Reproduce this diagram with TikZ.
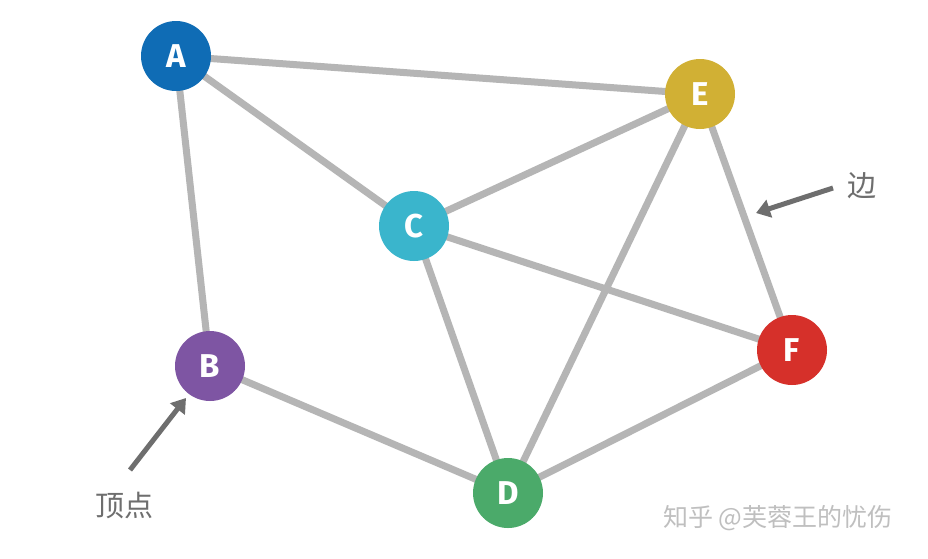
\documentclass[tikz,border=0pt]{standalone}
\usepackage{fontspec}
\setmainfont{Fira Sans}
\newfontfamily\cjk{Noto Sans CJK SC}
\usetikzlibrary{arrows.meta}
\definecolor{cA}{HTML}{0F6CB5}
\definecolor{cB}{HTML}{7E55A3}
\definecolor{cC}{HTML}{3AB5CC}
\definecolor{cD}{HTML}{4BAA6A}
\definecolor{cE}{HTML}{D1B034}
\definecolor{cF}{HTML}{D6302A}
\definecolor{edgec}{HTML}{B5B5B5}
\definecolor{arrc}{HTML}{6E6E6E}
\begin{document}
\begin{tikzpicture}[x=1pt,y=-1pt,
  vert/.style={circle,minimum size=70pt,inner sep=0pt,text=white,font=\fontsize{33}{33}\selectfont\bfseries},
  edge/.style={draw=edgec,line width=7pt},
  pointer/.style={draw=arrc,line width=5pt,-{Triangle[length=14pt,width=18pt]}},
  lbl/.style={text=arrc,font=\cjk\fontsize{29}{29}\selectfont}]
\useasboundingbox (0,0) rectangle (928,558);
\fill[white] (0,0) rectangle (928,558);
\coordinate (pA) at (176,56);
\coordinate (pE) at (700,94);
\coordinate (pC) at (414,226);
\coordinate (pB) at (210,366);
\coordinate (pF) at (792,350);
\coordinate (pD) at (508,493);
\foreach \a/\b in {A/E,A/C,A/B,C/E,C/F,C/D,E/D,E/F,B/D,F/D}
  \draw[edge] (p\a) -- (p\b);
\node[vert,fill=cA] (A) at (pA) {A};
\node[vert,fill=cE] (E) at (pE) {E};
\node[vert,fill=cC] (C) at (pC) {C};
\node[vert,fill=cB] (B) at (pB) {B};
\node[vert,fill=cF] (F) at (pF) {F};
\node[vert,fill=cD] (D) at (pD) {D};
\node[lbl] (ledge) at (862,186) {边};
\coordinate (te) at (756,213);
\draw[pointer] (833,188) -- (te);
\node[lbl] (lvert) at (124,505) {顶点};
\coordinate (tv) at (186,398);
\draw[pointer] (130,470) -- (tv);
\node[text=black!25,font=\cjk\fontsize{25}{25}\selectfont] (wm) at (778,518) {知乎 @芙蓉王的忧伤};
\end{tikzpicture}
\end{document}
